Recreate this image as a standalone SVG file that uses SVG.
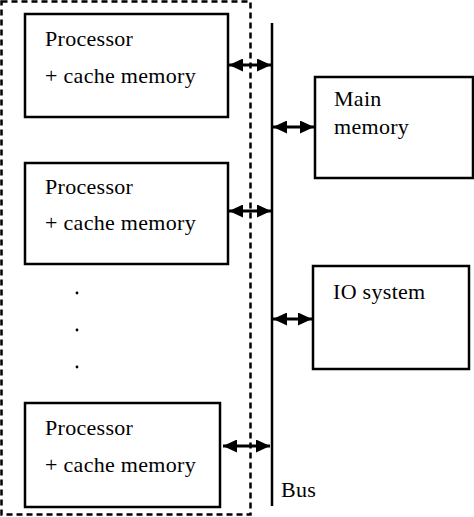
<svg xmlns="http://www.w3.org/2000/svg" width="474" height="517" viewBox="0 0 474 517">
<defs>
<marker id="ah" viewBox="0 0 14 13" refX="14" refY="6.5" markerWidth="14" markerHeight="13" markerUnits="userSpaceOnUse" orient="auto-start-reverse">
<path d="M0,0 L14,6.5 L0,13 Z" fill="#000"/>
</marker>
<style>
.box{fill:#fff;stroke:#000;stroke-width:2.5}
.t{font-size:22px;letter-spacing:0.3px;fill:#000}
.c{stroke:#000;stroke-width:3;fill:none;marker-start:url(#ah);marker-end:url(#ah)}
</style>
</defs>
<rect id="group" x="1.5" y="1.5" width="249" height="513" fill="none" stroke="#000" stroke-width="2.5" stroke-dasharray="6,4"/>
<g id="bus" font-family="Liberation Serif, DejaVu Serif, serif">
<line x1="272" y1="23" x2="272" y2="506" stroke="#000" stroke-width="2.5"/>
<text class="t" x="281" y="497">Bus</text>
</g>
<g id="proc1" font-family="Liberation Serif, DejaVu Serif, serif">
<rect class="box" x="25" y="14" width="203" height="103"/>
<text class="t" x="45" y="46">Processor</text>
<text class="t" x="45" y="83">+ cache memory</text>
</g>
<g id="proc2" font-family="Liberation Serif, DejaVu Serif, serif">
<rect class="box" x="25" y="163" width="203" height="101"/>
<text class="t" x="45" y="194">Processor</text>
<text class="t" x="45" y="230">+ cache memory</text>
</g>
<g id="dots">
<circle cx="77" cy="293" r="1.4" fill="#000"/>
<circle cx="77" cy="330" r="1.4" fill="#000"/>
<circle cx="77" cy="367" r="1.4" fill="#000"/>
</g>
<g id="proc3" font-family="Liberation Serif, DejaVu Serif, serif">
<rect class="box" x="25" y="403" width="195" height="104"/>
<text class="t" x="45" y="435">Processor</text>
<text class="t" x="45" y="472">+ cache memory</text>
</g>
<g id="mainmem" font-family="Liberation Serif, DejaVu Serif, serif">
<rect class="box" x="315" y="77" width="158" height="101"/>
<text class="t" x="334" y="106">Main</text>
<text class="t" x="334" y="134">memory</text>
</g>
<g id="io" font-family="Liberation Serif, DejaVu Serif, serif">
<rect class="box" x="313" y="266" width="156" height="103"/>
<text class="t" x="333" y="299">IO system</text>
</g>
<g id="connectors">
<line class="c" x1="229" y1="65" x2="271" y2="65"/>
<line class="c" x1="229" y1="211" x2="271" y2="211"/>
<line class="c" x1="223" y1="446" x2="270" y2="446"/>
<line class="c" x1="273" y1="127" x2="314" y2="127"/>
<line class="c" x1="273" y1="319" x2="312" y2="319"/>
</g>
</svg>
